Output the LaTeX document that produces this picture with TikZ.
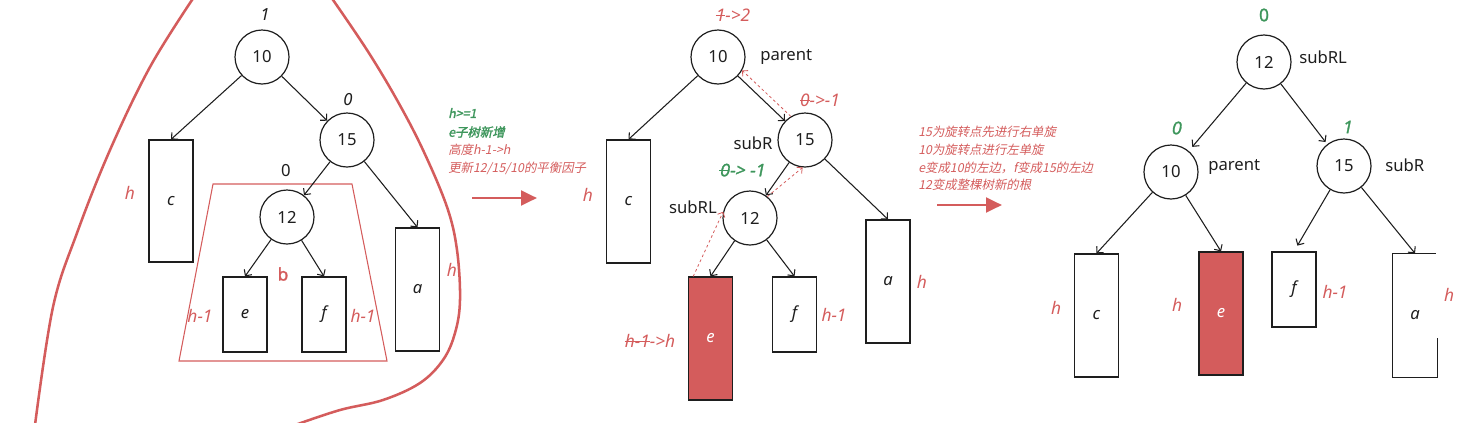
\documentclass[tikz,border=0pt]{standalone}
\usepackage{fontspec}
\usepackage{calc}
\setmainfont{Noto Sans}
\newfontfamily\latbold[FakeBold=1.6]{Noto Sans}
\newfontfamily\latboldit[FakeBold=1.6,FakeSlant=0.2]{Noto Sans}
\newfontfamily\cjk[FakeSlant=0.2]{Noto Sans CJK SC}
\newfontfamily\cjkbold[FakeSlant=0.2,FakeBold=2]{Noto Sans CJK SC}
\usetikzlibrary{arrows.meta,calc}
\definecolor{redc}{RGB}{212,92,92}
\definecolor{greenc}{RGB}{62,150,92}
\definecolor{inkc}{RGB}{30,30,30}
\newcommand{\strk}[1]{\ooalign{#1\cr\hidewidth\rule[0.32em]{\widthof{#1}}{0.06em}\hidewidth\cr}}
\begin{document}
\begin{tikzpicture}[x=0.75pt,y=-0.75pt,
  nd/.style={circle,draw=inkc,line width=0.9pt,minimum size=40.5pt,inner sep=0pt,font=\fontsize{12.5}{14}\selectfont,text=inkc},
  tb/.style={draw=inkc,line width=0.9pt,minimum width=33pt,minimum height=#1*0.75pt,inner sep=0pt,font=\itshape\fontsize{12.5}{14}\selectfont,text=inkc},
  tbred/.style={tb=#1,fill=redc,text=white},
  conn/.style={-{Straight Barb[length=3.5pt,width=7pt]},line width=0.8pt,draw=inkc},
  dconn/.style={-{Straight Barb[length=3pt,width=6pt]},line width=0.6pt,draw=redc,dash pattern=on 2pt off 2pt},
  lbl/.style={font=\itshape\fontsize{13}{15}\selectfont,text=redc,inner sep=0pt},
  bfl/.style={font=\itshape\fontsize{12.5}{14}\selectfont,text=inkc,inner sep=0pt},
  grl/.style={font=\latboldit\fontsize{13}{15}\selectfont,text=greenc,inner sep=0pt},
  nm/.style={font=\fontsize{12.5}{14}\selectfont,text=inkc,inner sep=0pt},
  notel/.style={font=\cjk\fontsize{9.3}{11}\selectfont,text=redc,inner sep=0pt,anchor=west},
  gnotel/.style={font=\cjkbold\fontsize{9.3}{11}\selectfont,text=greenc,inner sep=0pt,anchor=west},
  bigarrow/.style={-{Triangle[length=12pt,width=11pt]},line width=2.2pt,draw=redc}
]
\useasboundingbox (0,0) rectangle (1483,422);

% ---------- panel 1 ----------
\draw[redc,line width=1.9pt] plot[smooth,tension=0.6] coordinates {(194,-3) (150,67) (110,150) (77,233) (53,307) (35,425)};
\draw[redc,line width=1.9pt] plot[smooth,tension=0.6] coordinates {(331,-3) (367,50) (397,100) (423,150) (447,207) (457,250) (460,300) (455,333) (443,360) (420,383) (383,400) (340,410) (295,425)};
\draw[redc,line width=0.8pt] (213,184) -- (352,184) -- (387,361) -- (179,361) -- cycle;

\node[nd] (p1n10) at (262,57) {10};
\node[nd] (p1n15) at (347,140) {15};
\node[nd] (p1n12) at (287,217) {12};
\node[tb=122] (p1c) at (171,201) {c};
\node[tb=75] (p1e) at (245,314.5) {e};
\node[tb=75] (p1f) at (324,314.5) {f};
\node[tb=123] (p1a) at (417.5,289.5) {a};

\draw[conn] (p1n10) -- (p1c.north);
\draw[conn] (p1n10) -- (p1n15);
\draw[conn] (p1n15) -- (p1n12);
\draw[conn] (p1n15) -- (p1a.north);
\draw[conn] (p1n12) -- (p1e.north);
\draw[conn] (p1n12) -- (p1f.north);

\node[bfl] (p1l1) at (265,15) {1};
\node[bfl] (p1l2) at (348,100) {0};
\node[nm] (p1l3) at (286,171) {0};
\node[lbl] (p1h1) at (130,193) {h};
\node[lbl] (p1h2) at (200,316) {h-1};
\node[lbl] (p1h3) at (363,316) {h-1};
\node[lbl] (p1h4) at (452,270) {h};
\node[font=\latbold\fontsize{13}{15}\selectfont,text=redc,inner sep=0pt] (p1b) at (283,274) {b};

% ---------- notes 1 ----------
\node[gnotel] (t1) at (448,113) {h>=1};
\node[gnotel] (t2) at (448,132) {e子树新增};
\node[notel] (t3) at (448,150) {高度h-1->h};
\node[notel] (t4) at (448,168) {更新12/15/10的平衡因子};
\coordinate (ar1s) at (472,198);
\coordinate (ar1e) at (537,198);
\draw[bigarrow] (ar1s) -- (ar1e);

% ---------- panel 2 ----------
\node[nd] (p2n10) at (718,57) {10};
\node[nd] (p2n15) at (805,140) {15};
\node[nd] (p2n12) at (750,218) {12};
\node[tb=123] (p2c) at (628.5,201.5) {c};
\node[tbred=123] (p2e) at (710.5,338.5) {e};
\node[tb=75] (p2f) at (794.5,314.5) {f};
\node[tb=123] (p2a) at (888,281.5) {a};

\draw[conn] (p2n10) -- (p2c.north);
\draw[conn] (p2n10) -- (p2n15);
\draw[conn] (p2n15) -- (p2n12);
\draw[conn] (p2n15) -- (p2a.north);
\draw[conn] (p2n12) -- (p2e.north);
\draw[conn] (p2n12) -- (p2f.north);

\draw[dconn] ([xshift=4pt]p2e.north west) -- (p2n12.167);
\draw[dconn] (p2n12.51) -- (p2n15.265);
\draw[dconn] (p2n15.121) -- (p2n10.331);

\node[nm,anchor=west] (p2parent) at (760,57) {parent};
\node[nm] (p2subR) at (753,143) {subR};
\node[nm] (p2subRL) at (693,207) {subRL};
\node[lbl] (p2l1) at (733,15) {\strk{1}->2};
\node[lbl] (p2l2) at (820,100) {\strk{0}->-1};
\node[grl] (p2l3) at (742,170) {\strk{0}-> -1};
\node[lbl] (p2l4) at (650,341) {\strk{h-1}->h};
\node[lbl] (p2h1) at (588,195) {h};
\node[lbl] (p2h2) at (834,315) {h-1};
\node[lbl] (p2h3) at (922,282) {h};

% ---------- notes 2 ----------
\node[notel] (u1) at (918,132) {15为旋转点先进行右单旋};
\node[notel] (u2) at (918,150) {10为旋转点进行左单旋};
\node[notel] (u3) at (918,168) {e变成10的左边，f变成15的左边};
\node[notel] (u4) at (918,185) {12变成整棵树新的根};
\coordinate (ar2s) at (937,205);
\coordinate (ar2e) at (1002,205);
\draw[bigarrow] (ar2s) -- (ar2e);

% ---------- panel 3 ----------
\node[nd] (p3n12) at (1264,62) {12};
\node[nd] (p3n10) at (1171,172) {10};
\node[nd] (p3n15) at (1344,166) {15};
\node[tb=123] (p3c) at (1096.5,315.5) {c};
\node[tbred=123] (p3e) at (1221,313.5) {e};
\node[tb=75] (p3f) at (1294,289.5) {f};
\node[tb=123,draw=none] (p3a) at (1415,315.5) {a};
\draw[inkc,line width=0.9pt] ([xshift=-1.5pt]p3a.north east) -- (p3a.north west) -- (p3a.south west) -- (p3a.south east) -- ([yshift=30pt]p3a.south east);

\draw[conn,shorten >=4pt] (p3n12) -- (p3n10);
\draw[conn,shorten >=2pt] (p3n12) -- (p3n15);
\draw[conn] (p3n10) -- (p3c.north);
\draw[conn] (p3n10) -- (p3e.north);
\draw[conn,shorten >=5pt] (p3n15) -- (p3f.north);
\draw[conn] (p3n15) -- (p3a.north);

\node[font=\latbold\fontsize{13}{15}\selectfont,text=greenc,inner sep=0pt] (p3l1) at (1264,15) {0};
\node[grl] (p3l2) at (1176,128) {0};
\node[grl] (p3l3) at (1347,127) {1};
\node[nm,anchor=west] (p3subRL) at (1299,57) {subRL};
\node[nm,anchor=west] (p3parent) at (1208,167) {parent};
\node[nm,anchor=west] (p3subR) at (1385,165) {subR};
\node[lbl] (p3h1) at (1056,308) {h};
\node[lbl] (p3h2) at (1177,305) {h};
\node[lbl] (p3h3) at (1335,292) {h-1};
\node[lbl] (p3h4) at (1449,295) {h};
\end{tikzpicture}
\end{document}
